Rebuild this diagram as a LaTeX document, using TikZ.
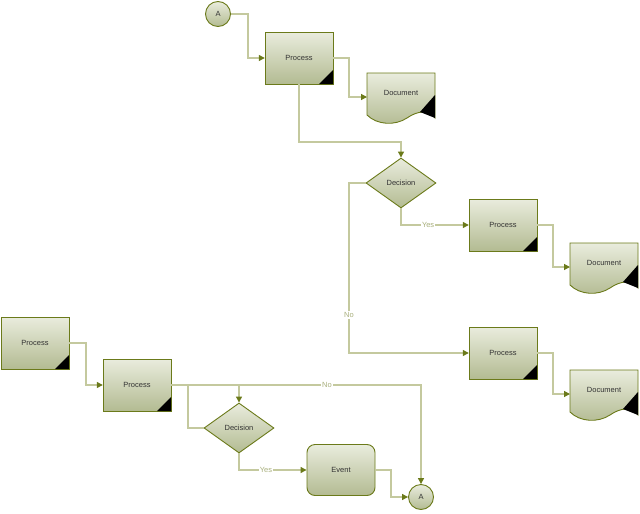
\documentclass[tikz,border=0pt]{standalone}
\usepackage{fontspec}
\setmainfont{Liberation Sans}
\usetikzlibrary{shapes.geometric,arrows.meta}
\definecolor{ftop}{HTML}{E9ECDD}
\definecolor{fbot}{HTML}{B3BB92}
\definecolor{bord}{HTML}{6B7A1A}
\definecolor{lin}{HTML}{C4C99E}
\definecolor{lbltxt}{HTML}{A8AF7C}
\definecolor{txt}{HTML}{333333}
\tikzset{
  conn/.style={draw=lin, line width=1.2pt},
  arr/.style={conn, -{Triangle[color=bord,length=6pt,width=6pt]}},
  lbl/.style={fill=white, text=lbltxt, font=\fontsize{7.5}{8}\selectfont, inner sep=1pt},
  anchorbox/.style={draw=none, minimum width=68pt, minimum height=#1, inner sep=0pt, text=txt, font=\fontsize{7.5}{8}\selectfont},
  shapefill/.style={top color=ftop, bottom color=fbot, draw=bord, line width=0.9pt},
  dec/.style={diamond, shapefill, minimum width=70pt, minimum height=50pt, inner sep=0pt, text=txt, font=\fontsize{7.5}{8}\selectfont},
  conc/.style={circle, shapefill, minimum size=25pt, inner sep=0pt, text=txt, font=\fontsize{7.5}{8}\selectfont},
  evt/.style={rectangle, rounded corners=8pt, shapefill, minimum width=68pt, minimum height=51pt, text=txt, font=\fontsize{7.5}{8}\selectfont},
}
\newcommand\proc[4]{%
  \shade[shapefill] ({#2-34},{#3-26}) rectangle ({#2+34},{#3+26});
  \fill[black] ({#2+34},{#3+12}) -- ({#2+34},{#3+26}) -- ({#2+20},{#3+26}) -- cycle;
  \node[anchorbox=52pt] (#1) at (#2,#3) {#4};}
\newcommand\docu[4]{%
  \shade[shapefill] ({#2-34},{#3-24}) -- ({#2+34},{#3-24}) -- ({#2+34},{#3+21})
    .. controls ({#2+28},{#3+12}) and ({#2+16},{#3+14}) .. ({#2+6},{#3+21})
    .. controls ({#2-6},{#3+29}) and ({#2-24},{#3+28}) .. ({#2-34},{#3+18}) -- cycle;
  \fill[black] ({#2+34},{#3-2}) -- ({#2+34},{#3+21}) -- ({#2+19},{#3+15}) -- cycle;
  \node[anchorbox=44pt] (#1) at (#2,#3-4) {#4};
  \coordinate (#1w) at ({#2-34},#3);}
\begin{document}
\begin{tikzpicture}[x=1pt,y=-1pt]
\useasboundingbox (0,0) rectangle (640,514);
\node[conc] (a1) at (218,14) {A};
\proc{p1}{299}{58}{Process}
\docu{d1}{401}{97}{Document}
\node[dec] (dc1) at (401,183) {Decision};
\proc{p2}{503}{225}{Process}
\docu{d2}{604}{267}{Document}
\proc{p3}{503}{353}{Process}
\docu{d3}{604}{394}{Document}
\proc{p0}{35}{343}{Process}
\proc{p4}{137}{385}{Process}
\node[dec] (dc2) at (239,428) {Decision};
\node[evt] (ev) at (341,470) {Event};
\node[conc] (a2) at (421,497) {A};

\draw[arr] (a1.east) -- (248,14) |- (p1.west);
\draw[arr] (p1.east) -- (349,58) |- (d1w);
\draw[arr] (p1.south) |- (401,142) -- (dc1.north);
\draw[arr] (dc1.south) |- node[lbl,pos=0.7] {Yes} (p2.west);
\draw[arr] (dc1.west) -- (349,183) |- (p3.west);
\node[lbl] at (349,315) {No};
\draw[arr] (p2.east) -- (553,225) |- (d2w);
\draw[arr] (p3.east) -- (553,353) |- (d3w);
\draw[arr] (p0.east) -- (86,343) |- (p4.west);
\draw[arr] (p4.east) -| (dc2.north);
\draw[arr] (p4.east) -| (a2.north);
\node[lbl] at (327,385) {No};
\draw[conn] (dc2.west) -| (188,385);
\draw[arr] (dc2.south) |- node[lbl,pos=0.7] {Yes} (ev.west);
\draw[arr] (ev.east) -- (391,470) |- (a2.west);
\end{tikzpicture}
\end{document}
